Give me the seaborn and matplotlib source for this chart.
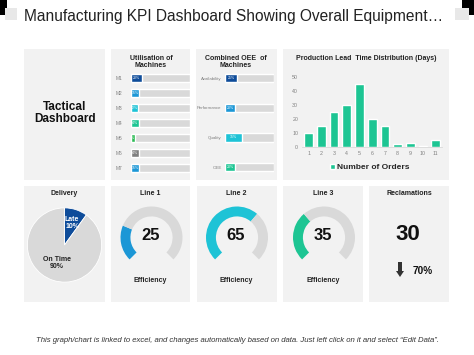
import matplotlib
matplotlib.use("Agg")
import matplotlib.pyplot as plt
import seaborn as sns
from matplotlib.patches import Rectangle, FancyArrow

sns.set_theme(style="white")
plt.rcParams["font.family"] = ["Liberation Sans", "DejaVu Sans"]

# data
machines = ["M1", "M2", "M3", "M4", "M5", "M6", "M7"]
util_values = [20, 15, 12, 14, 8, 14, 15]
oee_labels = ["Availability", "Performance", "Quality", "OEE"]
oee_values = [25, 20, 35, 20]
lead_days = ["1", "2", "3", "4", "5", "6", "7", "8", "9", "10", "11"]
lead_orders = [10, 15, 25, 30, 45, 20, 15, 2, 3, 1, 5]
delivery_labels = ["Late", "On Time"]
delivery_values = [10, 90]
line_names = ["Line 1", "Line 2", "Line 3"]
line_eff = [25, 65, 35]
reclamations = 30
reclamation_change = 70

# colours
DARK = "#0E4C9A"
BLUE = "#1C97D6"
CYAN = "#1EC3D6"
TEAL = "#1DC593"
GREEN = "#2DBB55"
GREY = "#808080"
TRACK = "#D9D9D9"
PANEL = "#F2F2F2"

W, H = 474, 355
fig = plt.figure(figsize=(W / 100, H / 100), dpi=100)
fig.patch.set_facecolor("white")


def box(x0, y0, x1, y1):
    ax = fig.add_axes([x0 / W, 1 - y1 / H, (x1 - x0) / W, (y1 - y0) / H])
    ax.patch.set_alpha(0)
    return ax


def ftext(x, y, s, **kw):
    kw.setdefault("ha", "center")
    kw.setdefault("va", "center")
    fig.text(x / W, 1 - y / H, s, **kw)


def rect(x0, y0, w, h, c):
    fig.patches.append(Rectangle((x0 / W, 1 - (y0 + h) / H), w / W, h / H,
                                 transform=fig.transFigure, facecolor=c,
                                 edgecolor="none", zorder=-1))


# corner marks
rect(0, 0, 7, 15, "black")
rect(5, 8, 12, 12, "#E8E8E8")
rect(462, 0, 12, 15, "black")
rect(455, 8, 14, 12, "#E8E8E8")

ftext(24, 16, "Manufacturing KPI Dashboard Showing Overall Equipment\u2026",
      ha="left", fontsize=11.2, color="#222222")

# panels
for x0, y0, x1, y1 in [(24, 49, 105, 180), (111, 49, 190, 180), (196, 49, 277, 180),
                       (283, 49, 449, 180), (24, 186, 105, 302), (111, 186, 190, 302),
                       (197, 186, 277, 302), (283, 186, 363, 302), (369, 186, 449, 302)]:
    rect(x0, y0, x1 - x0, y1 - y0, PANEL)

ftext(65, 113, "Tactical\nDashboard", fontsize=8.5, fontweight="bold",
      color="#111111", linespacing=1.1)

# utilisation of machines
ftext(151, 62, "Utilisation of\nMachines", fontsize=5, fontweight="bold",
      color="#222222", linespacing=1.1)
ax = box(130.5, 70.5, 190, 175.5)
sns.barplot(x=[100] * len(machines), y=machines, color=TRACK, width=0.5,
            saturation=1, ax=ax)
sns.barplot(x=util_values, y=machines, hue=machines,
            palette=[DARK, BLUE, CYAN, TEAL, GREEN, GREY, BLUE], width=0.5,
            saturation=1, legend=False, ax=ax)
for i, v in enumerate(util_values):
    ax.text(v / 2, i, f"{v}%", ha="center", va="center", fontsize=2.5, color="white")
ax.set_xlim(0, 100)
ax.set_ylim(6.5, -0.5)
ax.set_xlabel("")
ax.set_ylabel("")
ax.set_xticks([])
ax.tick_params(axis="y", length=0, pad=6, labelsize=3.5, labelcolor=GREY)
sns.despine(ax=ax, left=True, bottom=True)

# combined OEE
ftext(236, 62, "Combined OEE  of\nMachines", fontsize=5, fontweight="bold",
      color="#222222", linespacing=1.1)
ax = box(225, 63.2, 274, 182)
sns.barplot(x=[100] * len(oee_labels), y=oee_labels, color=TRACK, width=0.28,
            saturation=1, ax=ax)
sns.barplot(x=oee_values, y=oee_labels, hue=oee_labels,
            palette=[DARK, BLUE, CYAN, TEAL], width=0.28, saturation=1,
            legend=False, ax=ax)
for i, v in enumerate(oee_values):
    ax.text(v / 2, i, f"{v}%", ha="center", va="center", fontsize=2.5, color="white")
ax.set_xlim(0, 100)
ax.set_ylim(3.5, -0.5)
ax.set_xlabel("")
ax.set_ylabel("")
ax.set_xticks([])
ax.tick_params(axis="y", length=0, pad=2.5, labelsize=3.2, labelcolor=GREY)
sns.despine(ax=ax, left=True, bottom=True)

# production lead time
ftext(366, 58, "Production Lead  Time Distribution (Days)", fontsize=5,
      fontweight="bold", color="#222222")
ax = box(302.3, 77, 442.1, 147)
sns.barplot(x=lead_days, y=lead_orders, color=TEAL, width=0.68, saturation=1,
            label="Number of Orders", ax=ax)
ax.set_xlim(-0.5, 10.5)
ax.set_ylim(0, 50)
ax.set_yticks(range(0, 51, 10))
ax.set_xlabel("")
ax.set_ylabel("")
ax.tick_params(length=0, labelsize=3.8, labelcolor=GREY, pad=3)
sns.despine(ax=ax, left=True)
ax.spines["bottom"].set_color(TRACK)
ax.spines["bottom"].set_linewidth(0.6)
ax.legend(loc="center", bbox_to_anchor=(0.484, -0.29), frameon=False,
          handlelength=0.6, handleheight=0.6, handletextpad=0.2,
          prop={"weight": "bold", "size": 6})

# delivery pie
ftext(64.5, 193, "Delivery", fontsize=5, fontweight="bold", color="#222222")
r = 37.5
ax = box(64.5 - r, 245 - r, 64.5 + r, 245 + r)
ax.pie(delivery_values, colors=[DARK, TRACK], startangle=90, counterclock=False,
       wedgeprops={"edgecolor": "white", "linewidth": 0.6})
ax.set_xlim(-1.01, 1.01)
ax.set_ylim(-1.01, 1.01)
ftext(72, 223, f"{delivery_labels[0]}\n{delivery_values[0]}%", fontsize=5,
      fontweight="bold", color="white", linespacing=1.0)
ftext(57, 263, f"{delivery_labels[1]}\n{delivery_values[1]}%", fontsize=5,
      fontweight="bold", color="#222222", linespacing=1.0)

# gauges
for name, v, cx, c in zip(line_names, line_eff, [151.5, 237, 324], [BLUE, CYAN, TEAL]):
    ftext(cx - 1, 193, name, fontsize=5, fontweight="bold", color="#222222")
    r = 31
    ax = box(cx - r, 237.5 - r, cx + r, 237.5 + r)
    ax.pie([v, 100 - v, 100 / 3], colors=[c, TRACK, "none"], startangle=225,
           counterclock=False, wedgeprops={"width": 0.32, "edgecolor": "none"})
    ax.set_xlim(-1, 1)
    ax.set_ylim(-1, 1)
    ftext(cx - 1, 236, str(v), fontsize=12, fontweight="bold", color="#111111")
    ftext(cx - 1, 280, "Efficiency", fontsize=5, fontweight="bold", color="#222222")

# reclamations
ftext(409, 193, "Reclamations", fontsize=5, fontweight="bold", color="#222222")
ftext(408, 235, str(reclamations), fontsize=16, fontweight="bold", color="#111111")
ftext(423, 271, f"{reclamation_change}%", fontsize=7.2, fontweight="bold",
      color="#111111")
fig.patches.append(FancyArrow(400 / W, 1 - 262 / H, 0, -15 / H, width=4 / W,
                              head_width=8 / W, head_length=6 / H,
                              length_includes_head=True, transform=fig.transFigure,
                              facecolor="#333333", edgecolor="none"))

ftext(238, 340, "This graph/chart is linked to excel, and changes automatically based on "
      "data. Just left click on it and select \u201cEdit Data\u201d.",
      fontsize=5.6, style="italic", color="#333333")

fig.savefig("out.png", dpi=100)
